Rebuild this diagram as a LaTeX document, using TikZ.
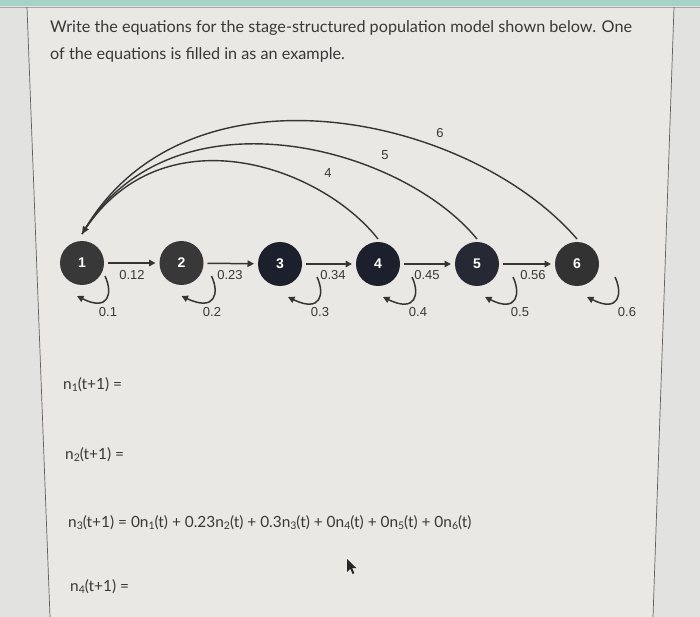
\documentclass[tikz,border=0pt]{standalone}
\usepackage{fontspec}
\setmainfont{Lato}
\newfontfamily\labfont{Liberation Sans}
\usetikzlibrary{arrows.meta,calc}
\definecolor{bgc}{HTML}{E9E8E4}
\definecolor{outc}{HTML}{E2E2E0}
\definecolor{teal}{HTML}{A6D3C8}
\definecolor{txtc}{HTML}{383838}
\definecolor{arrc}{HTML}{353535}
\definecolor{ngray}{HTML}{383838}
\definecolor{nnavy}{HTML}{1C1F2C}
\newcommand\sbx[1]{\raisebox{-0.35ex}{\fontsize{10.5}{10.5}\selectfont #1}}
\begin{document}
\begin{tikzpicture}[x=1pt,y=-1pt,
  stage/.style={circle, minimum size=44pt, inner sep=0pt, outer sep=3pt,
    font=\labfont\bfseries\fontsize{14}{14}\selectfont, text=white},
  tr/.style={draw=arrc, line width=1.5pt, -{Triangle[length=6.5pt,width=6.5pt]}},
  arcline/.style={draw=arrc, line width=1.4pt},
  lab/.style={font=\labfont\fontsize{13}{13}\selectfont, text=txtc, inner sep=0pt},
  title/.style={font=\fontsize{16.2}{16.2}\selectfont, text=txtc, inner sep=0pt, anchor=base west},
  eq/.style={font=\fontsize{15.4}{15.4}\selectfont, text=txtc, inner sep=0pt, anchor=base west}]
\useasboundingbox (0,0) rectangle (700,617);
% background
\fill[outc] (0,0) rectangle (700,617);
\fill[bgc] (27,7) -- (674,7) -- (653,617) -- (50,617) -- cycle;
\fill[teal] (0,0) rectangle (700,6.5);
\draw[gray!70, line width=0.6pt] (0,7) -- (700,7);
\draw[gray!75!black, line width=0.7pt] (27,7) -- (50,617);
\draw[gray!75!black, line width=0.7pt] (674,7) -- (653,617);
% title
\node[title] (t1) at (50,33) {Write the equations for the stage-structured population model shown below. One};
\node[title] (t2) at (50,60) {of the equations is filled in as an example.};
% stages
\node[stage, fill=ngray] (n1) at (82,263) {1};
\node[stage, fill=ngray] (n2) at (181.5,263) {2};
\node[stage, fill=nnavy] (n3) at (280,264) {3};
\node[stage, fill=nnavy] (n4) at (378,264) {4};
\node[stage, fill=nnavy!90!gray] (n5) at (477,264) {5};
\node[stage, fill=ngray!90!black] (n6) at (577,264) {6};
% transitions
\draw[tr, shorten <=1pt, shorten >=1pt] (n1) -- (n2);
\draw[tr, shorten <=1pt, shorten >=1pt] (n2) -- (n3);
\draw[tr, shorten <=1pt, shorten >=1pt] (n3) -- (n4);
\draw[tr, shorten <=1pt, shorten >=1pt] (n4) -- (n5);
\draw[tr, shorten <=1pt, shorten >=1pt] (n5) -- (n6);
\node[lab] (l12) at (132,275) {0.12};
\node[lab] (l23) at (230,275) {0.23};
\node[lab] (l34) at (333,275) {0.34};
\node[lab] (l45) at (427,275) {0.45};
\node[lab] (l56) at (533,275) {0.56};
% self loops
\foreach \n/\sx/\ex in {n1/23/-5, n2/30/0, n3/37/8, n4/34/5, n5/36/8, n6/38/10}{
  \draw[tr] ($(\n)+(\sx,13)$) .. controls ($(\n)+(\sx+8,30)$) and ($(\n)+(\sx+4,49)$) .. ($(\n)+(\ex,33)$);
}
\node[lab] (s1) at (108,312) {0.1};
\node[lab] (s2) at (212,312) {0.2};
\node[lab] (s3) at (320,312) {0.3};
\node[lab] (s4) at (418,312) {0.4};
\node[lab] (s5) at (520,312) {0.5};
\node[lab] (s6) at (627,312) {0.6};
% reproduction arcs
\coordinate (tip) at ($(n1.north)+(0,-4)$);
\draw[arcline] (n4.north) .. controls (320,165) and (160,110) .. (tip);
\draw[arcline] (n5.north) .. controls (400,145) and (170,85) .. (tip);
\draw[arcline, -{Triangle[length=7.5pt,width=6.5pt]}] (n6.north) .. controls (470,115) and (190,55) .. (tip);
\node[lab] (f4) at (328,173) {4};
\node[lab] (f5) at (385,155) {5};
\node[lab] (f6) at (440,133) {6};
% equations
\node[eq] (e1) at (63,389) {n\sbx{1}(t+1) =};
\node[eq] (e2) at (65,459) {n\sbx{2}(t+1) =};
\node[eq] (e3) at (68,527) {n\sbx{3}(t+1) = 0n\sbx{1}(t) + 0.23n\sbx{2}(t) + 0.3n\sbx{3}(t) + 0n\sbx{4}(t) + 0n\sbx{5}(t) + 0n\sbx{6}(t)};
\node[eq] (e4) at (70,591) {n\sbx{4}(t+1) =};
% cursor
\fill[black!85] (347,559) -- (347,572) -- (350.3,568.8) -- (352.6,574) -- (354.4,573.2) -- (352.2,568.2) -- (356.5,568.2) -- cycle;
\end{tikzpicture}
\end{document}
